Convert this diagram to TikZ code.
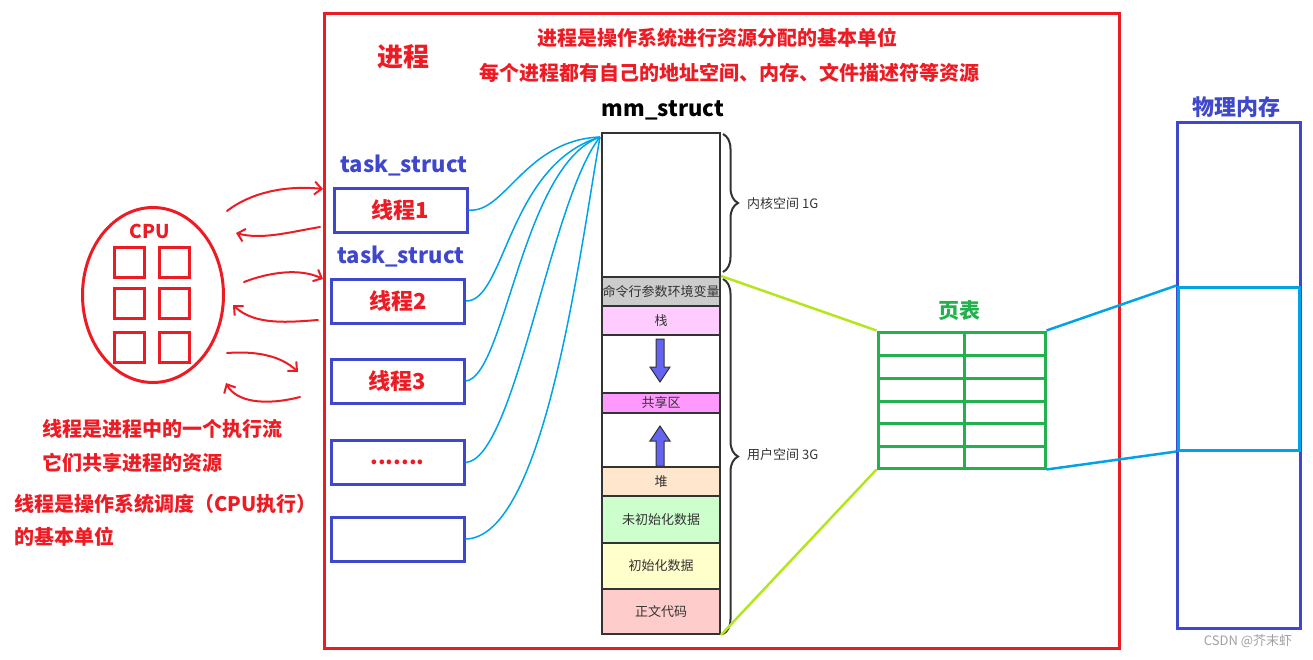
\documentclass[tikz,border=0pt]{standalone}
\usepackage{fontspec}
\setmainfont{Noto Sans CJK SC}
\usetikzlibrary{arrows.meta,decorations.pathreplacing,shapes.geometric}
\definecolor{myred}{HTML}{ED1C24}
\definecolor{myblue}{HTML}{3F48CC}
\definecolor{mycyan}{HTML}{00A2E8}
\definecolor{mygreen}{HTML}{22B14C}
\definecolor{mylime}{HTML}{B5E61D}
\definecolor{mmline}{HTML}{333333}
\definecolor{arrfill}{HTML}{6464F0}
\definecolor{cgray}{HTML}{CCCCCC}
\definecolor{cpink}{HTML}{FFCCFF}
\definecolor{cmag}{HTML}{FF99FF}
\definecolor{cpeach}{HTML}{FFE6CC}
\definecolor{cgreen}{HTML}{CCFFCC}
\definecolor{cyellow}{HTML}{FFFFCC}
\definecolor{cred}{HTML}{FFCCCC}
\definecolor{wm}{HTML}{A0A0A0}
\tikzset{
  thread/.style={draw=myblue,line width=3pt,minimum width=133pt,minimum height=44pt,inner sep=0pt,text=myred,font=\fontsize{22}{22}\selectfont\bfseries},
  seg/.style={draw=mmline,line width=2pt,inner sep=0pt,minimum width=118pt,text=mmline,font=\fontsize{13}{13}\selectfont},
  rtitle/.style={text=myred,font=\fontsize{20}{20}\selectfont\bfseries,inner sep=0pt},
  btitle/.style={text=myblue,font=\fontsize{22}{22}\selectfont\bfseries,inner sep=0pt},
  hand/.style={myred,line width=2pt,line cap=round,-{Straight Barb[length=7pt,width=13pt]}},
  link/.style={mycyan,line width=1.5pt},
  sq/.style={draw=myred,line width=3pt,minimum width=30pt,minimum height=30pt,inner sep=0pt},
  lbl/.style={text=mmline,font=\fontsize{13}{13}\selectfont,inner sep=0pt,anchor=west},
  brc/.style={draw=mmline,line width=2pt,decorate,decoration={brace,amplitude=15pt}}
}
\begin{document}
\begin{tikzpicture}[x=1pt,y=-1pt]
\useasboundingbox (0,0) rectangle (1313,659);
% process box
\node[draw=myred,line width=3pt,minimum width=795pt,minimum height=635pt,inner sep=0pt] (proc) at (721.5,330.5) {};
\node[text=myred,font=\fontsize{26}{26}\selectfont\bfseries] (jc) at (403,57) {进程};
\node[rtitle] (t1) at (717,38) {进程是操作系统进行资源分配的基本单位};
\node[rtitle] (t2) at (729,73) {每个进程都有自己的地址空间、内存、文件描述符等资源};
% mm_struct
\node[font=\fontsize{22}{22}\selectfont\bfseries,inner sep=0pt] (mmt) at (663,110) {mm\_struct};
\node[seg,minimum height=144pt,fill=white] (kern) at (661,205) {};
\node[seg,minimum height=29pt,fill=cgray] (argv) at (661,291.5) {命令行参数环境变量};
\node[seg,minimum height=29pt,fill=cpink] (stack) at (661,320.5) {栈};
\node[seg,minimum height=58pt,fill=white] (gap1) at (661,364) {};
\node[seg,minimum height=20pt,fill=cmag] (shm) at (661,403) {共享区};
\node[seg,minimum height=54pt,fill=white] (gap2) at (661,440) {};
\node[seg,minimum height=29pt,fill=cpeach] (heap) at (661,481.5) {堆};
\node[seg,minimum height=47pt,fill=cgreen] (bss) at (661,519.5) {未初始化数据};
\node[seg,minimum height=46pt,fill=cyellow] (data) at (661,566) {初始化数据};
\node[seg,minimum height=45pt,fill=cred] (text) at (661,611.5) {正文代码};
% growth arrows
\draw[draw=mmline,fill=arrfill,line width=1pt] (656,339) -- (664,339) -- (664,367) -- (670,367) -- (660,382) -- (650,367) -- (656,367) -- cycle;
\draw[draw=mmline,fill=arrfill,line width=1pt] (656,466) -- (664,466) -- (664,441) -- (670,441) -- (660,426) -- (650,441) -- (656,441) -- cycle;
% braces
\coordinate (kb1) at (723,134);
\coordinate (kb2) at (723,272);
\coordinate (ub1) at (723,279);
\coordinate (ub2) at (723,634);
\draw[brc] (kb1) -- (kb2);
\draw[brc] (ub1) -- (ub2);
\node[lbl] (klbl) at (747,204) {内核空间 1G};
\node[lbl] (ulbl) at (747,455) {用户空间 3G};
% task_struct & threads
\node[btitle] (ts1) at (404,165) {task\_struct};
\node[btitle] (ts2) at (401,256) {task\_struct};
\node[thread] (th1) at (400.5,210) {线程1};
\node[thread] (th2) at (398,301) {线程2};
\node[thread] (th3) at (397.5,381) {线程3};
\node[thread] (th4) at (397.5,462.5) {.......};
\node[thread] (th5) at (397.5,539) {};
% links to mm_struct
\coordinate (mmp) at (600,137);
\draw[link] (th1.east) .. controls (505,214) and (525,140) .. (mmp);
\draw[link] (th2.east) .. controls (505,302) and (508,165) .. (mmp);
\draw[link] (th3.east) .. controls (505,378) and (522,165) .. (mmp);
\draw[link] (th4.east) .. controls (515,460) and (550,200) .. (mmp);
\draw[link] (th5.east) .. controls (545,538) and (580,250) .. (mmp);
% CPU
\node[draw=myred,line width=3pt,ellipse,minimum width=141pt,minimum height=175pt,inner sep=0pt] (cpu) at (153,295) {};
\node[text=myred,font=\fontsize{19}{19}\selectfont\bfseries,inner sep=0pt] (cpul) at (150,231) {CPU};
\node[sq] (s1) at (129.5,262) {};
\node[sq] (s2) at (174.5,262) {};
\node[sq] (s3) at (129.5,303.5) {};
\node[sq] (s4) at (174.5,303.5) {};
\node[sq] (s5) at (129.5,347) {};
\node[sq] (s6) at (174.5,347) {};
% hand arrows
\coordinate (a1s) at (227,211); \coordinate (a1e) at (323,189);
\coordinate (a2s) at (320,227); \coordinate (a2e) at (236,233);
\coordinate (a3s) at (244,282); \coordinate (a3e) at (323,279);
\coordinate (a4s) at (318,320); \coordinate (a4e) at (233,305);
\coordinate (a5s) at (227,353); \coordinate (a5e) at (298,372);
\coordinate (a6s) at (300,397); \coordinate (a6e) at (226,383);
\draw[hand] (a1s) .. controls (250,193) and (285,185) .. (a1e);
\draw[hand] (a2s) .. controls (290,232) and (262,240) .. (a2e);
\draw[hand] (a3s) .. controls (270,272) and (300,268) .. (a3e);
\draw[hand] (a4s) .. controls (290,322) and (255,326) .. (a4e);
\draw[hand] (a5s) .. controls (255,351) and (280,355) .. (a5e);
\draw[hand] (a6s) .. controls (265,406) and (236,402) .. (a6e);
% left notes
\node[rtitle,anchor=west] (n1) at (42,429) {线程是进程中的一个执行流};
\node[rtitle,anchor=west] (n2) at (42,463) {它们共享进程的资源};
\node[rtitle,anchor=west] (n3) at (14,504) {线程是操作系统调度（CPU执行）};
\node[rtitle,anchor=west] (n4) at (14,537) {的基本单位};
% page table
\node[text=mygreen,font=\fontsize{21}{21}\selectfont\bfseries,inner sep=0pt] (ptl) at (959,311) {页表};
\node[draw=mygreen,line width=3pt,minimum width=167pt,minimum height=136pt,inner sep=0pt] (pt) at (961.5,400) {};
\foreach \y in {355,378,401,423,446} \draw[mygreen,line width=3pt] (878,\y) -- (1045,\y);
\draw[mygreen,line width=3pt] (964,332) -- (964,468);
% lime links
\draw[mylime,line width=2.5pt] (argv.north east) -- (pt.north west);
\draw[mylime,line width=2.5pt] (text.south east) -- (pt.south west);
% physical memory
\node[text=myblue,font=\fontsize{22}{22}\selectfont\bfseries,inner sep=0pt] (pml) at (1236,107) {物理内存};
\node[draw=myblue,line width=3pt,minimum width=123pt,minimum height=506pt,inner sep=0pt] (pm) at (1238.5,375) {};
\node[draw=mycyan,line width=3pt,minimum width=121pt,minimum height=163pt,inner sep=0pt] (page) at (1238.5,368.5) {};
\draw[mycyan,line width=2.5pt] (pt.north east) -- (page.north west);
\draw[mycyan,line width=2.5pt] (pt.south east) -- (page.south west);
% watermark
\node[text=wm,font=\fontsize{13}{13}\selectfont,inner sep=0pt] (wmk) at (1248,641) {CSDN @芥末虾};
\end{tikzpicture}
\end{document}
